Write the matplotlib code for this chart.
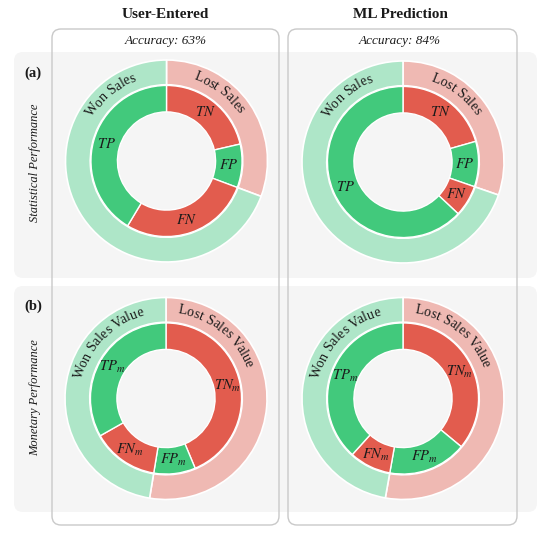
import numpy as np
import matplotlib
matplotlib.use('Agg')
import matplotlib.pyplot as plt
from matplotlib.patches import FancyBboxPatch
from matplotlib import font_manager, ft2font

# data: inner ring order TN, FP, FN, TP (clockwise from top)
inner_keys = ['TN', 'FP', 'FN', 'TP']
user_stat = [21.4, 9.3, 27.9, 41.4]
ml_stat = [20.6, 9.7, 6.7, 63.0]
user_money = [43.7, 8.9, 14.2, 33.2]
ml_money = [36.0, 16.8, 8.9, 38.3]
col_titles = ['User-Entered', 'ML Prediction']
accuracy = ['Accuracy: 63%', 'Accuracy: 84%']
row_tags = ['(a)', '(b)']
row_names = ['Statistical Performance', 'Monetary Performance']
outer_stat = ['Lost Sales', 'Won Sales']
outer_money = ['Lost Sales Value', 'Won Sales Value']

GREEN = '#42c97c'
RED = '#e25c4e'
LGREEN = '#aee6c8'
PINK = '#efb9b3'
INK = '#1a1a1a'

plt.rcParams['font.family'] = 'Liberation Serif'
plt.rcParams['mathtext.fontset'] = 'stix'

W, H = 550, 538
fig = plt.figure(figsize=(W / 100, H / 100), dpi=100)
bg = fig.add_axes([0, 0, 1, 1])
bg.set_xlim(0, W)
bg.set_ylim(H, 0)
bg.axis('off')

# row bands
for y0, y1 in [(52, 278), (286, 512)]:
    bg.add_patch(FancyBboxPatch((14, y0), 523, y1 - y0, boxstyle='round,pad=0,rounding_size=9',
                                fc='#f5f5f5', ec='none', zorder=1))
# column boxes
col_x = [(52, 279), (288, 517)]
for x0, x1 in col_x:
    bg.add_patch(FancyBboxPatch((x0, 29), x1 - x0, 496, boxstyle='round,pad=0,rounding_size=9',
                                fc='none', ec='#c9c9c9', lw=1.0, zorder=2))

title_x = [165.5, 400]
for i in range(2):
    bg.text(title_x[i], 15, col_titles[i], ha='center', va='center', fontsize=11,
            fontweight='bold', color=INK)
    bg.text(title_x[i], 41, accuracy[i], ha='center', va='center', fontsize=9.5,
            style='italic', color=INK)

row_y = [161, 398.5]
for j in range(2):
    bg.text(33, [73, 306][j], row_tags[j], ha='center', va='center', fontsize=10.5,
            fontweight='bold', color=INK)
    bg.text(35, [163, 398][j], row_names[j], ha='center', va='center', fontsize=9,
            style='italic', rotation=90, color=INK)

# font metrics for curved text (advance + kerning)
fpath = font_manager.findfont(font_manager.FontProperties(family='Liberation Serif'))
ftfont = ft2font.FT2Font(fpath)
try:
    KERN = ft2font.Kerning.DEFAULT
except AttributeError:
    KERN = ft2font.KERNING_DEFAULT
LABEL_FS = 10


def pen_positions(s, fs):
    ftfont.set_size(fs, 100)
    xs, advs = [], []
    x = 0.0
    prev = None
    for c in s:
        idx = ftfont.get_char_index(ord(c))
        if prev is not None:
            x += ftfont.get_kerning(prev, idx, KERN) / 64
        adv = ftfont.load_char(ord(c)).linearHoriAdvance / 65536
        xs.append(x + adv / 2)
        advs.append(adv)
        x += adv
        prev = idx
    return np.array(xs), x


R_PX = 101
LIM = 1.04
AX_PX = 2 * R_PX * LIM
px_per_unit = AX_PX / (2 * LIM)


def curved(ax, s, theta_c, r, fs):
    centers, total = pen_positions(s, fs)
    for c, xc in zip(s, centers):
        pos = (xc - total / 2) / px_per_unit
        th = theta_c + np.degrees(pos / r)
        t = np.radians(th)
        ax.text(r * np.sin(t), r * np.cos(t), c, rotation=-th, rotation_mode='anchor',
                ha='center', va='baseline', fontsize=fs, color=INK)


def donut(cx, cy, vals, outer_labels, money, label_angles):
    ax = fig.add_axes([(cx - AX_PX / 2) / W, 1 - (cy + AX_PX / 2) / H, AX_PX / W, AX_PX / H])
    ax.patch.set_alpha(0)
    outer = [vals[0] + vals[1], vals[2] + vals[3]]
    ax.pie(outer, radius=1.0, startangle=90, counterclock=False, colors=[PINK, LGREEN],
           wedgeprops=dict(width=0.245, edgecolor='white', linewidth=1.2))
    wedges, _ = ax.pie(vals, radius=0.748, startangle=90, counterclock=False,
                       colors=[RED, GREEN, RED, GREEN],
                       wedgeprops=dict(width=0.262, edgecolor='white', linewidth=1.0))
    rm = 0.748 - 0.262 / 2
    for w, k in zip(wedges, inner_keys):
        mid = np.radians((w.theta1 + w.theta2) / 2)
        lab = '$%s_m$' % k if money else '$%s$' % k
        ax.text(rm * np.cos(mid), rm * np.sin(mid), lab, ha='center', va='center',
                fontsize=10.5, color=INK)
    for lab, ang in zip(outer_labels, label_angles):
        curved(ax, lab, ang, 0.85, LABEL_FS)
    ax.set_xlim(-LIM, LIM)
    ax.set_ylim(-LIM, LIM)
    ax.set_aspect('equal')
    ax.axis('off')


donut(166.5, row_y[0], user_stat, outer_stat, False, [37.5, -40])
donut(403, row_y[0] + 1, ml_stat, outer_stat, False, [38, -40])
donut(166, row_y[1], user_money, outer_money, True, [38.5, -46])
donut(403, row_y[1], ml_money, outer_money, True, [38.5, -46])

fig.savefig('out.png', dpi=100)
